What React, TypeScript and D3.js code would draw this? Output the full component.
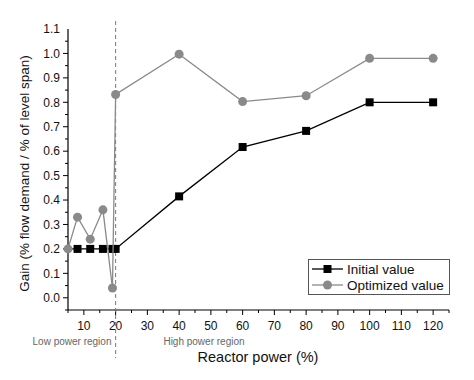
import React from "react";
import * as d3 from "d3";

const powerInitial = [5, 8, 12, 16, 19, 20, 40, 60, 80, 100, 120];
const gainInitial = [0.2, 0.2, 0.2, 0.2, 0.2, 0.2, 0.415, 0.617, 0.683, 0.8, 0.8];
const powerOptimized = [5, 8, 12, 16, 19, 20, 40, 60, 80, 100, 120];
const gainOptimized = [0.2, 0.33, 0.24, 0.36, 0.04, 0.832, 0.997, 0.803, 0.827, 0.98, 0.98];
const xTicks = [10, 20, 30, 40, 50, 60, 70, 80, 90, 100, 110, 120];
const yTicks = [0, 0.1, 0.2, 0.3, 0.4, 0.5, 0.6, 0.7, 0.8, 0.9, 1.0, 1.1];
const seriesNames = ["Initial value", "Optimized value"];
const boundary = 20;

export default function App() {
  const W = 474, H = 380;
  const left = 68, right = 449, top = 29, bottom = 310;
  const x = d3.scaleLinear().domain([5, 125]).range([left, right]);
  const y = d3.scaleLinear().domain([-0.05, 1.1]).range([bottom, top]);
  const line = d3.line<[number, number]>().x(d => x(d[0])).y(d => y(d[1]));
  const initPts = powerInitial.map((p, i) => [p, gainInitial[i]] as [number, number]);
  const optPts = powerOptimized.map((p, i) => [p, gainOptimized[i]] as [number, number]);
  const xMinor = d3.range(5, 126, 5);
  const yMinor = d3.range(0, 23).map(i => -0.05 + i * 0.05).filter(v => v <= 1.1001);
  const font = "Liberation Sans, Arial, sans-serif";
  const grey = "#8a8a8a";
  return (
    <svg width={W} height={H} style={{ position: "absolute", left: 0, top: 0, background: "#fff" }} fontFamily={font}>
      {/* axes */}
      <line x1={left} x2={right} y1={bottom} y2={bottom} stroke="#000" strokeWidth={1.2} />
      <line x1={left} x2={left} y1={top} y2={bottom} stroke="#000" strokeWidth={1.2} />
      {xMinor.map(v => (
        <line key={"xm" + v} x1={x(v)} x2={x(v)} y1={bottom} y2={bottom + (v % 10 === 0 ? 5 : 3)} stroke="#000" strokeWidth={1} />
      ))}
      {yMinor.map((v, i) => (
        <line key={"ym" + i} x1={left} x2={left - (Math.abs(Math.round(v * 10) - v * 10) < 1e-6 ? 5 : 3)} y1={y(v)} y2={y(v)} stroke="#000" strokeWidth={1} />
      ))}
      {xTicks.map(v => (
        <text key={"xt" + v} x={x(v)} y={bottom + 19.5} fontSize={12} textAnchor="middle" fill="#111">{v}</text>
      ))}
      {yTicks.map(v => (
        <text key={"yt" + v} x={left - 8} y={y(v) + 4.2} fontSize={12} textAnchor="end" fill="#111">{v.toFixed(1)}</text>
      ))}
      {/* boundary */}
      <line x1={x(boundary)} x2={x(boundary)} y1={21} y2={358} stroke="#777" strokeWidth={1} strokeDasharray="4,3" />
      <text x={72} y={344.5} fontSize={10} textAnchor="middle" fill="#666">Low power region</text>
      <text x={204} y={344.5} fontSize={10} textAnchor="middle" fill="#666">High power region</text>
      <text x={258} y={362} fontSize={14.5} textAnchor="middle" fill="#111">Reactor power (%)</text>
      <text transform={`translate(29,${(top + bottom) / 2 + 4}) rotate(-90)`} fontSize={13.5} textAnchor="middle" fill="#111">Gain (% flow demand / % of level span)</text>
      {/* initial series */}
      <path d={line(initPts) || ""} fill="none" stroke="#000" strokeWidth={1.3} />
      {initPts.slice(1).map((d, i) => (
        <rect key={"s" + i} x={x(d[0]) - 4} y={y(d[1]) - 4} width={8} height={8} fill="#000" />
      ))}
      {/* optimized series */}
      <path d={line(optPts) || ""} fill="none" stroke={grey} strokeWidth={1.3} />
      {optPts.map((d, i) => (
        <circle key={"c" + i} cx={x(d[0])} cy={y(d[1])} r={4.5} fill={grey} />
      ))}
      {/* legend */}
      <rect x={308.5} y={259.5} width={141} height={35} fill="#fff" stroke="#555" strokeWidth={1} />
      <line x1={312} x2={343} y1={269} y2={269} stroke="#000" strokeWidth={1.3} />
      <rect x={323.5} y={265} width={8} height={8} fill="#000" />
      <text x={347} y={273.5} fontSize={13.5} fill="#111">{seriesNames[0]}</text>
      <line x1={312} x2={343} y1={285} y2={285} stroke={grey} strokeWidth={1.3} />
      <circle cx={327.5} cy={285} r={4.5} fill={grey} />
      <text x={347} y={289.5} fontSize={13.5} fill="#111">{seriesNames[1]}</text>
    </svg>
  );
}
